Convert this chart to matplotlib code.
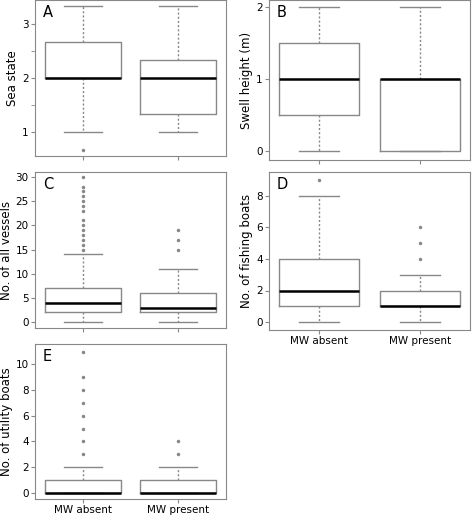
import matplotlib
matplotlib.use("Agg")
import matplotlib.pyplot as plt

groups = ["MW absent", "MW present"]
# (whislo, q1, med, q3, whishi, fliers)
sea = [(1, 2, 2, 2.67, 3.33, [0.67]), (1, 1.33, 2, 2.33, 3.33, [])]
swell = [(0, 0.5, 1, 1.5, 2, []), (0, 0, 1, 1, 2, [])]
vessels = [(0, 2, 4, 7, 14, [15, 16, 17, 18, 19, 20, 21, 23, 24, 25, 26, 27, 28, 30]),
           (0, 2, 3, 6, 11, [15, 17, 19])]
fishing = [(0, 1, 2, 4, 8, [9]), (0, 1, 1, 2, 3, [4, 5, 6])]
utility = [(0, 0, 0, 1, 2, [3, 4, 5, 6, 7, 8, 9, 11]), (0, 0, 0, 1, 2, [3, 4])]

gray = "#888888"
fig = plt.figure(figsize=(4.74, 5.16), dpi=100)
W, H = 474, 516
def ax_at(x0, y0, x1, y1):
    return fig.add_axes([x0 / W, 1 - y1 / H, (x1 - x0) / W, (y1 - y0) / H])

panels = [
    (ax_at(35, 0, 226, 156), sea, "Sea state", "A", [1, 2, 3], [1.5, 2.5], (0.55, 3.45), False),
    (ax_at(269, 0, 470, 160), swell, "Swell height (m)", "B", [0, 1, 2], [], (-0.12, 2.1), False),
    (ax_at(35, 172, 226, 328), vessels, "No. of all vessels", "C", [0, 5, 10, 15, 20, 25, 30], [], (-1.2, 31), False),
    (ax_at(269, 172, 470, 330), fishing, "No. of fishing boats", "D", [0, 2, 4, 6, 8], [], (-0.5, 9.5), True),
    (ax_at(35, 344, 226, 499), utility, "No. of utility boats", "E", [0, 2, 4, 6, 8, 10], [], (-0.5, 11.6), True),
]
for ax, data, ylab, letter, yt, minor, ylim, show in panels:
    stats = [dict(whislo=a, q1=b, med=c, q3=d, whishi=e, fliers=f) for a, b, c, d, e, f in data]
    ax.bxp(stats, positions=[1, 2], widths=0.8, showfliers=True,
           boxprops=dict(color=gray, linewidth=1),
           whiskerprops=dict(color=gray, linestyle=(0, (1.5, 1.5)), linewidth=1),
           capprops=dict(color=gray, linewidth=1),
           medianprops=dict(color="black", linewidth=1.8),
           flierprops=dict(marker="o", markersize=1.5, markerfacecolor=gray, markeredgecolor=gray))
    ax.set_xlim(0.5, 2.5)
    ax.set_ylim(*ylim)
    ax.set_yticks(yt)
    if minor:
        ax.set_yticks(minor, minor=True)
    ax.tick_params(axis="y", which="minor", length=3, color=gray)
    ax.set_xticks([1, 2])
    ax.set_xticklabels(groups if show else ["", ""], fontsize=7.5)
    ax.tick_params(color=gray, labelsize=7.5, length=3, pad=1.5)
    for s in ax.spines.values():
        s.set_color(gray)
    ax.set_ylabel(ylab, fontsize=8.5, labelpad=2)
    ax.text(0.04, 0.97, letter, transform=ax.transAxes, ha="left", va="top", fontsize=10.5)

fig.savefig("out.png", dpi=100)
